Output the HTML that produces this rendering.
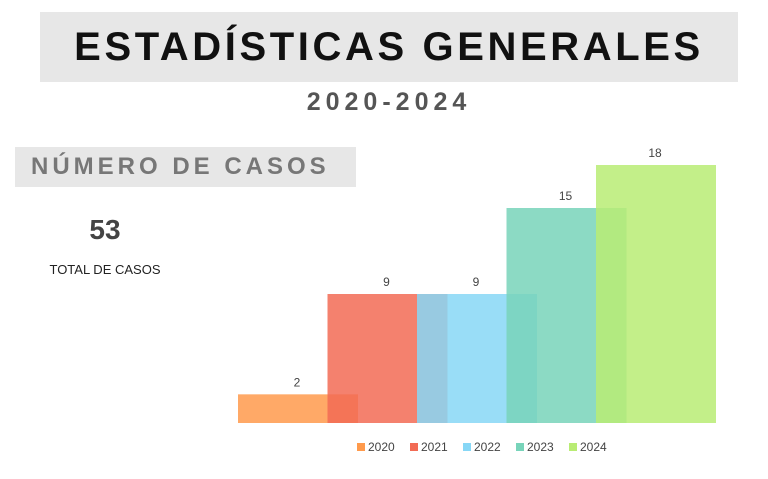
<!DOCTYPE html>
<html><head><meta charset="utf-8"><style>
body{margin:0;width:768px;height:479px;background:#fff;font-family:"Liberation Sans",sans-serif;overflow:hidden;position:relative}
.abs{position:absolute}
</style></head><body>
<div class="abs" style="left:40px;top:12px;width:698px;height:70px;background:#e7e7e7"></div>
<div class="abs" style="left:40px;top:12px;width:698px;height:70px;line-height:70px;text-align:center;font-weight:bold;font-size:40px;letter-spacing:3.6px;color:#111">ESTADÍSTICAS GENERALES</div>
<div class="abs" style="left:0;top:88px;width:778px;text-align:center;font-weight:bold;font-size:25px;letter-spacing:5px;color:#555">2020-2024</div>
<div class="abs" style="left:15px;top:147px;width:341px;height:40px;background:#e7e7e7;line-height:40px;font-weight:bold;font-size:24px;letter-spacing:4px;color:#777;padding-left:16px;box-sizing:border-box">NÚMERO DE CASOS</div>
<div class="abs" style="left:60px;top:214px;width:90px;text-align:center;font-weight:bold;font-size:28px;color:#444">53</div>
<div class="abs" style="left:30px;top:262px;width:150px;text-align:center;font-size:13px;color:#222">TOTAL DE CASOS</div>
<svg class="abs" style="left:0;top:0" width="768" height="479" id="chart"></svg>
<script>
const categories=["2020","2021","2022","2023","2024"];
const values=[2,9,9,15,18];
const colors=["#FF9A4C","#F26B55","#87D7F6","#78D4BA","#B9EC74"];
const svg=document.getElementById('chart');
const NS="http://www.w3.org/2000/svg";
const baseY=423, pxPer=(423-165)/18;
function yScale(v){return baseY-v*pxPer;}
function xScale(i){return 238+i*89.5;}
const bw=120;
categories.forEach((c,i)=>{
  const r=document.createElementNS(NS,'rect');
  
  
  r.setAttribute('x',xScale(i));r.setAttribute('y',yScale(values[i]));
  r.setAttribute('width',bw);r.setAttribute('height',baseY-yScale(values[i]));
  r.setAttribute('fill',colors[i]);r.setAttribute('fill-opacity','0.85');
  svg.appendChild(r);
  const t=document.createElementNS(NS,'text');
  
  
  t.setAttribute('x',xScale(i)+bw/2-1);t.setAttribute('y',yScale(values[i])-8);
  t.setAttribute('text-anchor','middle');t.setAttribute('font-size','12');t.setAttribute('fill','#444');
  t.textContent=values[i];svg.appendChild(t);
  const lx=357+i*53;
  const s=document.createElementNS(NS,'rect');
  
  
  s.setAttribute('x',lx);s.setAttribute('y',443);s.setAttribute('width',8);s.setAttribute('height',8);
  s.setAttribute('fill',colors[i]);svg.appendChild(s);
  const lt=document.createElementNS(NS,'text');
  
  
  lt.setAttribute('x',lx+11);lt.setAttribute('y',451);lt.setAttribute('font-size','12');lt.setAttribute('fill','#444');
  lt.textContent=c;svg.appendChild(lt);
});
</script>
</body></html>
